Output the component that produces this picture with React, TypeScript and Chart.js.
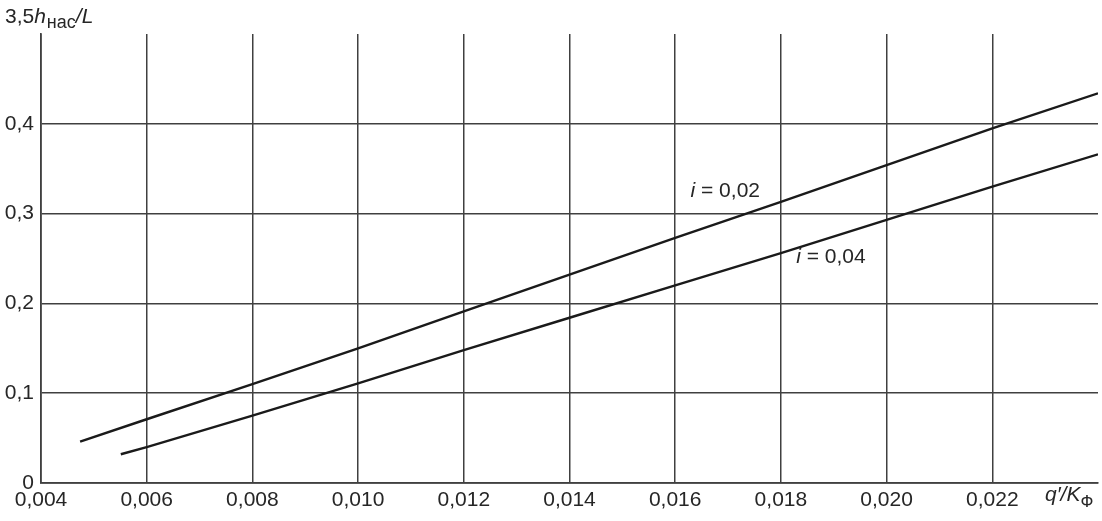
import { useEffect, useRef } from "react"
import { Chart, registerables } from "chart.js"

Chart.register(...registerables)

// q'/Kф values
const qI002 = [0.00474, 0.006, 0.008, 0.01, 0.012, 0.014, 0.016, 0.018, 0.02, 0.022, 0.024]
const hI002 = [0.046, 0.071, 0.11, 0.15, 0.191, 0.232, 0.273, 0.313, 0.354, 0.395, 0.434]
const qI004 = [0.00551, 0.006, 0.008, 0.01, 0.012, 0.014, 0.016, 0.018, 0.02, 0.022, 0.024]
const hI004 = [0.032, 0.04, 0.075, 0.111, 0.148, 0.184, 0.22, 0.256, 0.293, 0.33, 0.366]

const seriesLabels = ["0,02", "0,04"]
// where the "i = ..." labels sit, in data units
const labelPosQ = [0.01629, 0.01829]
const labelPosH = [0.325, 0.251]

const FONT = "'Liberation Sans', Arial, sans-serif"
const INK = "#262626"

const toPoints = (xs: number[], ys: number[]) => xs.map((x, i) => ({ x, y: ys[i] }))

const fmt = (v: number, digits: number) => v.toFixed(digits).replace(".", ",")

const annotations = {
  id: "annotations",
  afterDraw(chart: any) {
    const { ctx, scales } = chart
    ctx.save()
    ctx.fillStyle = INK
    ctx.textBaseline = "alphabetic"
    ctx.textAlign = "left"

    // y title: 3,5 h_нас / L
    let x = 5
    const yb = 23
    ctx.font = `21px ${FONT}`
    ctx.fillText("3,5", x, yb)
    x += ctx.measureText("3,5").width
    ctx.font = `italic 21px ${FONT}`
    ctx.fillText("h", x, yb)
    x += ctx.measureText("h").width + 1
    ctx.font = `18px ${FONT}`
    ctx.fillText("нас", x, yb + 5)
    x += ctx.measureText("нас").width
    ctx.font = `italic 21px ${FONT}`
    ctx.fillText("/L", x, yb)

    // x title: q'/K_Ф
    x = 1045
    const xb = 501
    ctx.font = `italic 21px ${FONT}`
    ctx.fillText("q′/K", x, xb)
    x += ctx.measureText("q′/K").width
    ctx.font = `17px ${FONT}`
    ctx.fillText("Ф", x, xb + 6)

    // series labels
    ctx.textBaseline = "middle"
    seriesLabels.forEach((lab, i) => {
      let px = scales.x.getPixelForValue(labelPosQ[i])
      const py = scales.y.getPixelForValue(labelPosH[i])
      ctx.font = `italic 21px ${FONT}`
      ctx.fillText("i", px, py)
      px += ctx.measureText("i").width
      ctx.font = `21px ${FONT}`
      ctx.fillText(` = ${lab}`, px, py)
    })
    ctx.restore()
  },
}

export default function App() {
  const canvasRef = useRef<HTMLCanvasElement>(null)
  const chartRef = useRef<Chart | null>(null)

  useEffect(() => {
    document.body.style.margin = "0"
    document.body.style.background = "#ffffff"
    if (!canvasRef.current) return
    const ctx = canvasRef.current.getContext("2d")
    if (!ctx) return

    if (chartRef.current) chartRef.current.destroy()

    const lineStyle = {
      borderColor: "#1a1a1a",
      borderWidth: 2.4,
      pointRadius: 0,
      tension: 0,
      fill: false,
    }

    chartRef.current = new Chart(ctx, {
      type: "line",
      data: {
        datasets: [
          { label: "i = 0,02", data: toPoints(qI002, hI002), ...lineStyle },
          { label: "i = 0,04", data: toPoints(qI004, hI004), ...lineStyle },
        ],
      },
      options: {
        responsive: false,
        animation: false,
        layout: { padding: { top: 34, right: 4, left: 0, bottom: 0 } },
        plugins: {
          legend: { display: false },
          tooltip: { enabled: false },
        },
        scales: {
          x: {
            type: "linear",
            min: 0.004,
            max: 0.024,
            offset: false,
            grid: { color: "#404040", lineWidth: 1.5, drawTicks: false },
            border: { color: "#404040", width: 1.7 },
            ticks: {
              stepSize: 0.002,
              padding: 5,
              maxRotation: 0,
              autoSkip: false,
              color: INK,
              font: { family: FONT, size: 21 },
              callback: (v: any) => (v > 0.0239 ? null : fmt(Number(v), 3)),
            },
            afterFit: (scale: any) => {
              scale.height = 38
            },
          },
          y: {
            type: "linear",
            min: 0,
            max: 0.5,
            grid: { color: "#404040", lineWidth: 1.5, drawTicks: false },
            border: { color: "#404040", width: 1.7 },
            ticks: {
              stepSize: 0.1,
              padding: 7,
              color: INK,
              font: { family: FONT, size: 21 },
              callback: (v: any) => {
                const n = Number(v)
                if (n > 0.49) return null
                if (n < 0.001) return "0"
                return fmt(n, 1)
              },
            },
            afterFit: (scale: any) => {
              scale.width = 41
            },
          },
        },
      },
      plugins: [annotations],
    })

    return () => {
      if (chartRef.current) {
        chartRef.current.destroy()
        chartRef.current = null
      }
    }
  }, [])

  return (
    <div style={{ width: 1102, height: 521 }}>
      <canvas ref={canvasRef} width={1102} height={521} style={{ width: 1102, height: 521 }} />
    </div>
  )
}
